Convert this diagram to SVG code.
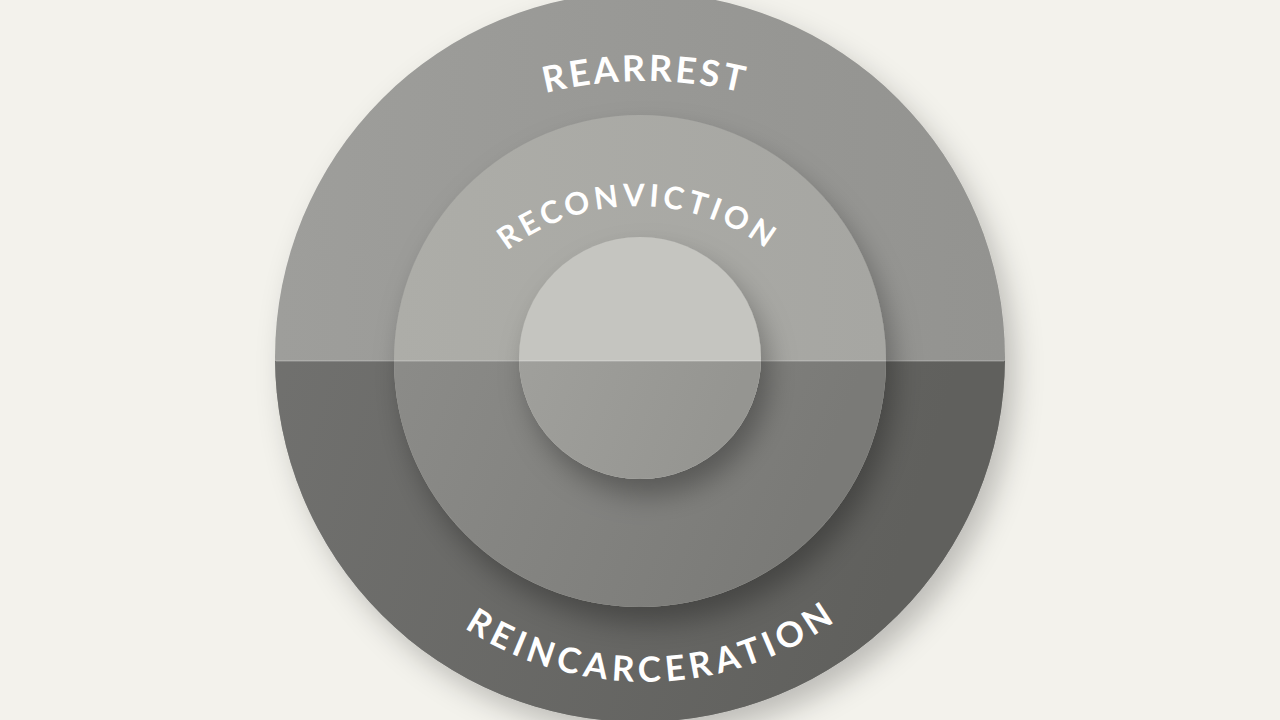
<svg xmlns="http://www.w3.org/2000/svg" width="1280" height="720" viewBox="0 0 1280 720">
<style>
.lbl{font-family:Lato,"Noto Sans","DejaVu Sans",sans-serif;font-weight:700;fill:#ffffff;text-anchor:middle}
.split{stroke:#ffffff;stroke-opacity:0.22;stroke-width:1.5}
</style>
<defs>
<clipPath id="lower"><rect x="0" y="361" width="1280" height="400"/></clipPath>
<filter id="shOuter" x="-20%" y="-20%" width="150%" height="150%"><feDropShadow dx="10" dy="14" stdDeviation="14" flood-color="#000" flood-opacity="0.22"/></filter>
<filter id="shInner" x="-30%" y="-30%" width="160%" height="160%"><feDropShadow dx="8" dy="16" stdDeviation="14" flood-color="#000" flood-opacity="0.3"/></filter>
<linearGradient id="outerLow" x1="0" y1="0" x2="1" y2="0.3"><stop offset="0" stop-color="#737371"/><stop offset="1" stop-color="#60605d"/></linearGradient>
<linearGradient id="outerUp" x1="0" y1="0" x2="1" y2="0"><stop offset="0" stop-color="#9e9e9b"/><stop offset="1" stop-color="#939390"/></linearGradient>
<linearGradient id="midLow" x1="0" y1="0" x2="1" y2="0.4"><stop offset="0" stop-color="#8f8f8c"/><stop offset="1" stop-color="#7a7a77"/></linearGradient>
<linearGradient id="midUp" x1="0" y1="0" x2="1" y2="0"><stop offset="0" stop-color="#adada8"/><stop offset="1" stop-color="#a6a6a2"/></linearGradient>
<linearGradient id="inLow" x1="0" y1="0" x2="1" y2="0.4"><stop offset="0" stop-color="#a2a29e"/><stop offset="1" stop-color="#959591"/></linearGradient>
<path id="pRearrest" d="M445,133.1 A410,410 0 0 1 845,133.1"/>
<path id="pReconv" d="M424,420 A214,214 0 0 1 852,420"/>
<path id="pReinc" d="M315,352 A330,330 0 0 0 975,352"/>
</defs>
<rect width="1280" height="720" fill="#f3f2ec"/>
<g id="ring-rearrest">
<g filter="url(#shOuter)">
<circle cx="640" cy="357" r="365" fill="url(#outerUp)"/>
</g>
<circle cx="640" cy="357" r="365" fill="url(#outerLow)" clip-path="url(#lower)"/>
<line class="split" x1="276" y1="361" x2="1004" y2="361"/>
<text class="lbl" font-size="36" letter-spacing="3"><textPath href="#pRearrest" startOffset="50%">REARREST</textPath></text>
</g>
<g id="ring-reconviction">
<g filter="url(#shInner)">
<circle cx="640" cy="361" r="246" fill="url(#midUp)"/>
</g>
<circle cx="640" cy="361" r="246" fill="url(#midLow)" clip-path="url(#lower)"/>
<line class="split" x1="394" y1="361" x2="886" y2="361"/>
<text class="lbl" font-size="31" letter-spacing="4"><textPath href="#pReconv" startOffset="50%">RECONVICTION</textPath></text>
</g>
<g id="core">
<g filter="url(#shInner)">
<circle cx="640" cy="358" r="121" fill="#c5c5c0"/>
</g>
<circle cx="640" cy="358" r="121" fill="url(#inLow)" clip-path="url(#lower)"/>
<line class="split" x1="519" y1="361" x2="761" y2="361"/>
</g>
<g id="label-reincarceration">
<text class="lbl" font-size="35" letter-spacing="5"><textPath href="#pReinc" startOffset="526">REINCARCERATION</textPath></text>
</g>
<g id="connectors"/>
</svg>
